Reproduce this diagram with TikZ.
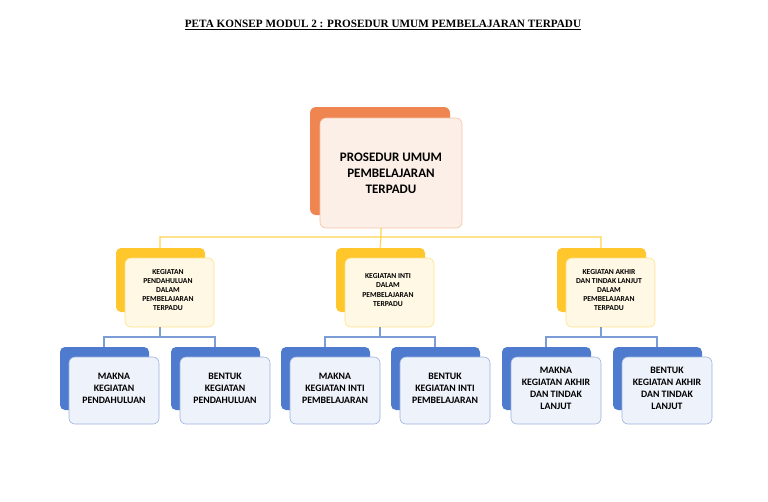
\documentclass[tikz,border=0pt]{standalone}
\usepackage{fontspec}
\setmainfont{Carlito}
\newfontfamily\titlefont{Liberation Serif}
\definecolor{orB}{HTML}{EF8550}\definecolor{orF}{HTML}{FCEFE8}\definecolor{orL}{HTML}{F6C2A4}
\definecolor{yeB}{HTML}{FFC72C}\definecolor{yeF}{HTML}{FFF8E4}\definecolor{yeL}{HTML}{FFE38A}
\definecolor{blB}{HTML}{4F7BCF}\definecolor{blF}{HTML}{EEF2FA}\definecolor{blL}{HTML}{9DB3DE}
\definecolor{yC}{HTML}{FFD34F}\definecolor{bC}{HTML}{7C9CD6}
\begin{document}
\begin{tikzpicture}[x=1pt,y=-1pt,
  front/.style={rounded corners=6pt,line width=0.6pt,align=center,font=\bfseries,text=black!85},
  yline/.style={draw=yC,line width=1.1pt},
  bline/.style={draw=bC,line width=1.1pt}]
\useasboundingbox (0,0) rectangle (768,501);
\node[font=\titlefont\bfseries\fontsize{11.2}{13}\selectfont] (title) at (383,25) {\underline{PETA KONSEP MODUL 2 : PROSEDUR UMUM PEMBELAJARAN TERPADU}};
% main
\fill[orB,rounded corners=6pt] (310,107) rectangle (450,215);
\draw[front,fill=orF,draw=orL] (320,118) rectangle (462,228);
\node[font=\bfseries\fontsize{13}{16}\selectfont,align=center] (main) at (391,173) {PROSEDUR UMUM\\PEMBELAJARAN\\TERPADU};
\coordinate (mb) at (381,228);
\coordinate (mj) at (381,237);
% level 2
\foreach \n/\x/\t in {a/116/{KEGIATAN\\PENDAHULUAN\\DALAM\\PEMBELAJARAN\\TERPADU},b/336/{KEGIATAN INTI\\DALAM\\PEMBELAJARAN\\TERPADU},c/557/{KEGIATAN AKHIR\\DAN TINDAK LANJUT\\DALAM\\PEMBELAJARAN\\TERPADU}}{
  \fill[yeB,rounded corners=5pt] (\x,248) rectangle ++(89,64);
  \draw[front,fill=yeF,draw=yeL] (\x+9,258) rectangle ++(89,69);
  \node[font=\bfseries\fontsize{7.6}{9.2}\selectfont,align=center] (\n) at (\x+52,290) {\t};
  \coordinate (\n t) at (\x+44,248);
  \coordinate (\n b) at (\x+44,327);
  \coordinate (\n j) at (\x+44,337);
}
\draw[yline] (mb) -- (mj) (at) |- (mj) -| (ct) (mj) -- (bt);
% level 3
\foreach \n/\x/\t in {a1/60/{MAKNA\\KEGIATAN\\PENDAHULUAN},a2/171/{BENTUK\\KEGIATAN\\PENDAHULUAN},b1/281/{MAKNA\\KEGIATAN INTI\\PEMBELAJARAN},b2/391/{BENTUK\\KEGIATAN INTI\\PEMBELAJARAN},c1/502/{MAKNA\\KEGIATAN AKHIR\\DAN TINDAK\\LANJUT},c2/613/{BENTUK\\KEGIATAN AKHIR\\DAN TINDAK\\LANJUT}}{
  \fill[blB,rounded corners=5pt] (\x,347) rectangle ++(89,63);
  \draw[front,fill=blF,draw=blL] (\x+9,357) rectangle ++(90,67);
  \node[font=\bfseries\fontsize{9.8}{12}\selectfont,align=center] (\n) at (\x+54,388) {\t};
  \coordinate (\n t) at (\x+44,347);
}
\foreach \p in {a,b,c}{
  \draw[bline] (\p b) -- (\p j) (\p 1t) |- (\p j) -| (\p 2t);
}
\end{tikzpicture}
\end{document}
